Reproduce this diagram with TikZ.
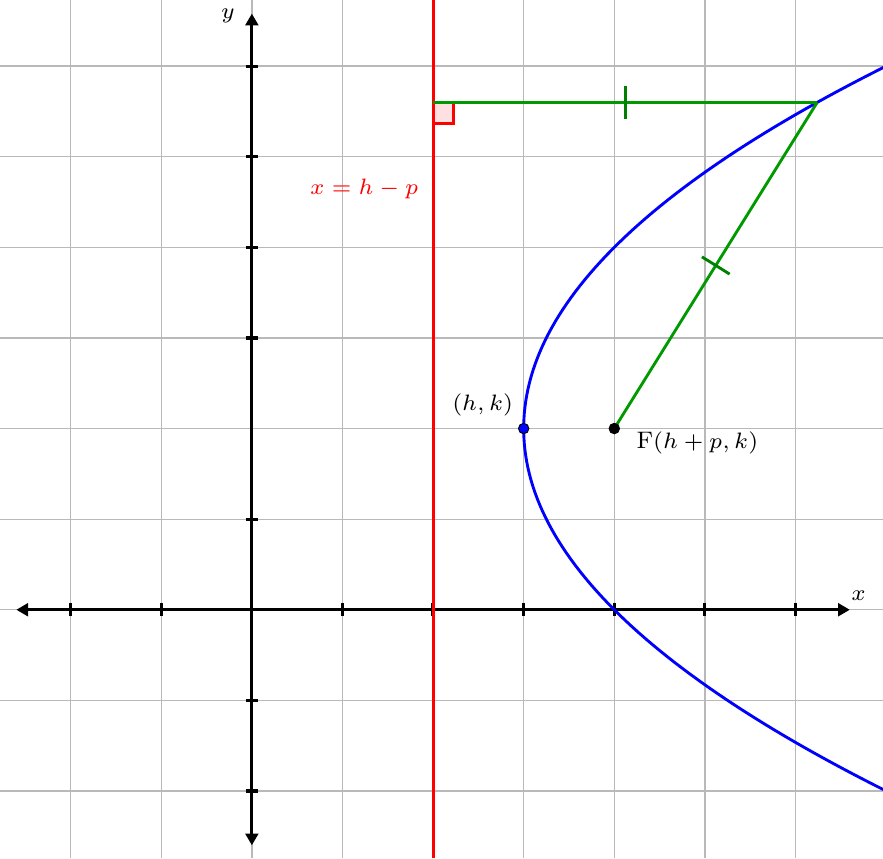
\documentclass[tikz,border=0pt]{standalone}
\usetikzlibrary{positioning,calc,arrows.meta}
\tikzset{gridline/.style={draw=gray!55, line width=0.4pt}}
\tikzset{axis/.style={draw, line width=1pt, {Triangle[length=1.3mm,width=1.4mm]}-{Triangle[length=1.3mm,width=1.4mm]}}}
\tikzset{tick/.style={draw, line width=1pt}}
\tikzset{curve/.style={draw=blue, line width=0.9pt}}
\tikzset{dirline/.style={draw=red, line width=0.9pt}}
\tikzset{segm/.style={draw=green!60!black, line width=0.9pt}}
\tikzset{hashmark/.style={draw=green!50!black, line width=0.9pt}}
\tikzset{dot/.style={circle, inner sep=0pt, minimum size=1.15mm, draw=black, line width=0.3pt, fill=#1}}
\tikzset{lab/.style={inner sep=0pt, font=\fontsize{7.5}{9}\selectfont}}

\begin{document}
\begin{tikzpicture}
	\useasboundingbox (-2.78,-2.74) rectangle (6.966,6.73);
	\clip (-2.78,-2.74) rectangle (6.966,6.73);
	% grid
	\foreach \i in {-2,...,6} {
		\draw[gridline] (\i,-2.74) -- (\i,6.73);
		\draw[gridline] (-2.78,\i) -- (6.966,\i);
	}
	% axes
	\coordinate (xl) at (-2.6,0);
	\coordinate (xr) at (6.6,0);
	\coordinate (yb) at (0,-2.6);
	\coordinate (yt) at (0,6.58);
	\draw[axis] (xl) -- (xr);
	\draw[axis] (yb) -- (yt);
	\foreach \i in {-2,...,6} \draw[tick] (\i,-0.07) -- (\i,0.07);
	\foreach \i in {-2,-1,0,1,3,4,5,6} \draw[tick] (-0.07,\i) -- (0.07,\i);
	\node[lab, above right=0.1cm and 0.01cm of xr] (xlab) {$x$};
	\node[lab, left=0.18cm of yt, yshift=-0.03cm] (ylab) {$y$};
	% directrix
	\coordinate (Db) at (2,-2.74);
	\coordinate (Dt) at (2,6.73);
	\draw[dirline] (Db) -- (Dt);
	\node[lab, red] (dirlab) at (1.24,4.64) {$x=h-p$};
	% parabola
	\draw[curve] plot[domain=-4:4, samples=120] ({3+\x*\x/4},{2+\x});
	% points
	\coordinate (V) at (3,2);
	\coordinate (F) at (4,2);
	\coordinate (P) at ({3+3.6*3.6/4},5.6);
	\coordinate (Q) at (2,5.6);
	% right angle mark
	\draw[red, line width=0.9pt, fill=red!12] (Q) rectangle ++(0.23,-0.23);
	% distances
	\draw[segm] (Q) -- (P);
	\draw[segm] (F) -- (P);
	\draw[hashmark] ($(Q)!0.5!(P)+(0,0.18)$) -- ($(Q)!0.5!(P)+(0,-0.18)$);
	\draw[hashmark] ($(F)!0.5!(P)!0.18cm!90:(P)$) -- ($(F)!0.5!(P)!0.18cm!-90:(P)$);
	\node[dot=blue] (Vd) at (V) {};
	\node[dot=black] (Fd) at (F) {};
	\node[lab, above left=0.13cm and 0.11cm of V] (Vlab) {$(h,k)$};
	\node[lab, below right=0.03cm and 0.24cm of F] (Flab) {F$(h+p,k)$};
\end{tikzpicture}
\end{document}
